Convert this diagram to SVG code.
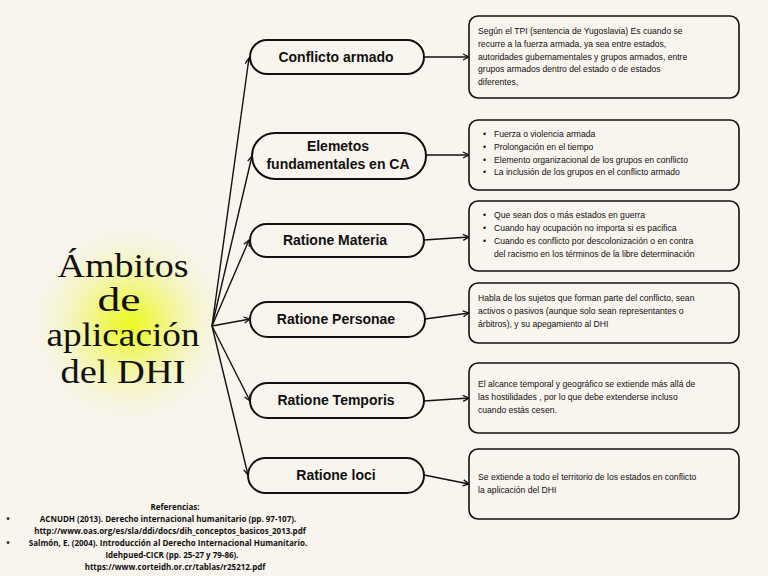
<svg xmlns="http://www.w3.org/2000/svg" width="768" height="576" viewBox="0 0 768 576">
<defs>
<radialGradient id="glow" cx="130" cy="324" r="108" gradientUnits="userSpaceOnUse">
<stop offset="0" stop-color="#ebf81f"/>
<stop offset="0.2" stop-color="#eef748" stop-opacity="0.9"/>
<stop offset="0.55" stop-color="#f2f69c" stop-opacity="0.6"/>
<stop offset="1" stop-color="#f8f4ee" stop-opacity="0"/>
</radialGradient>
<marker id="arr" markerWidth="8" markerHeight="8" refX="7" refY="4" orient="auto" markerUnits="userSpaceOnUse">
<path d="M1,1 L7,4 L1,7" fill="none" stroke="#111" stroke-width="1.3"/>
</marker>
<style>
.pill{fill:#f8f4ee;stroke:#111;stroke-width:2}
.box{fill:#f8f4ee;stroke:#111;stroke-width:1.6}
.lbl{font-family:"Liberation Sans",Arial,sans-serif;font-weight:bold;font-size:14px;fill:#111;text-anchor:middle}
.txt{font-family:"Liberation Sans",Arial,sans-serif;font-size:8.6px;fill:#111}
.ref{font-family:"Open Sans","Liberation Sans",sans-serif;font-weight:bold;font-size:8px;fill:#111;text-anchor:middle}
.con{fill:none;stroke:#111;stroke-width:1.4;marker-end:url(#arr)}
</style>
</defs>
<rect width="768" height="576" fill="#f8f4ee"/>
<circle cx="130" cy="324" r="108" fill="url(#glow)"/>
<g id="title" font-family="'Liberation Serif', 'DejaVu Serif', serif" font-size="33" fill="#111" text-anchor="middle">
<text x="123" y="277" textLength="131" lengthAdjust="spacingAndGlyphs">Ámbitos</text>
<text x="119" y="311" textLength="43" lengthAdjust="spacingAndGlyphs">de</text>
<text x="123" y="346" textLength="153" lengthAdjust="spacingAndGlyphs">aplicación</text>
<text x="123" y="383" textLength="125" lengthAdjust="spacingAndGlyphs">del DHI</text>
</g>
<g id="connectors">
<path class="con" d="M212,326 L249,58"/>
<path class="con" d="M212,326 L252,156"/>
<path class="con" d="M212,326 L249,240"/>
<path class="con" d="M212,326 L250,319"/>
<path class="con" d="M212,326 L250,401"/>
<path class="con" d="M212,326 L248,475"/>
<path class="con" d="M424,57 L469,57"/>
<path class="con" d="M426,155 L469,155"/>
<path class="con" d="M424,240 L469,237"/>
<path class="con" d="M425,319 L469,313"/>
<path class="con" d="M424,401 L469,398"/>
<path class="con" d="M424,475 L469,484"/>
</g>
<g id="n-conflicto">
<rect class="pill" x="250" y="40" width="174" height="34" rx="17"/>
<text class="lbl" x="336" y="62">Conflicto armado</text>
</g>
<g id="n-elementos">
<rect class="pill" x="252" y="133" width="174" height="46" rx="23"/>
<text class="lbl" x="338" y="151">Elemetos</text>
<text class="lbl" x="338" y="169">fundamentales en CA</text>
</g>
<g id="n-materia">
<rect class="pill" x="250" y="224" width="174" height="33" rx="16.5"/>
<text class="lbl" x="335" y="245">Ratione Materia</text>
</g>
<g id="n-personae">
<rect class="pill" x="250" y="302" width="175" height="35" rx="17.5"/>
<text class="lbl" x="336" y="324">Ratione Personae</text>
</g>
<g id="n-temporis">
<rect class="pill" x="250" y="383" width="174" height="35" rx="17.5"/>
<text class="lbl" x="336" y="405">Ratione Temporis</text>
</g>
<g id="n-loci">
<rect class="pill" x="248" y="458" width="176" height="35" rx="17.5"/>
<text class="lbl" x="336" y="480">Ratione loci</text>
</g>
<g id="b-conflicto">
<rect class="box" x="469" y="16" width="270" height="82" rx="9"/>
<text class="txt" x="478" y="34">Según el TPI (sentencia de Yugoslavia) Es cuando se</text>
<text class="txt" x="478" y="47">recurre a la fuerza armada, ya sea entre estados,</text>
<text class="txt" x="478" y="60">autoridades gubernamentales y grupos armados, entre</text>
<text class="txt" x="478" y="72">grupos armados dentro del estado o de estados</text>
<text class="txt" x="478" y="85">diferentes,</text>
</g>
<g id="b-elementos">
<rect class="box" x="469" y="120" width="270" height="70" rx="9"/>
<text class="txt" x="483" y="137">•</text><text class="txt" x="494" y="137">Fuerza o violencia armada</text>
<text class="txt" x="483" y="150">•</text><text class="txt" x="494" y="150">Prolongación en el tiempo</text>
<text class="txt" x="483" y="163">•</text><text class="txt" x="494" y="163">Elemento organizacional de los grupos en conflicto</text>
<text class="txt" x="483" y="175">•</text><text class="txt" x="494" y="175">La inclusión de los grupos en el conflicto armado</text>
</g>
<g id="b-materia">
<rect class="box" x="469" y="201" width="270" height="70" rx="9"/>
<text class="txt" x="483" y="218">•</text><text class="txt" x="494" y="218">Que sean dos o más estados en guerra</text>
<text class="txt" x="483" y="231">•</text><text class="txt" x="494" y="231">Cuando hay ocupación no importa si es pacifica</text>
<text class="txt" x="483" y="244">•</text><text class="txt" x="494" y="244">Cuando es conflicto por descolonización o en contra</text>
<text class="txt" x="494" y="257">del racismo en los términos de la libre determinación</text>
</g>
<g id="b-personae">
<rect class="box" x="469" y="283" width="270" height="60" rx="9"/>
<text class="txt" x="478" y="301">Habla de los sujetos que forman parte del conflicto, sean</text>
<text class="txt" x="478" y="314">activos o pasivos (aunque solo sean representantes o</text>
<text class="txt" x="478" y="327">árbitros), y su apegamiento al DHI</text>
</g>
<g id="b-temporis">
<rect class="box" x="469" y="363" width="270" height="70" rx="9"/>
<text class="txt" x="478" y="387">El alcance temporal y geográfico se extiende más allá de</text>
<text class="txt" x="478" y="400">las hostilidades , por lo que debe extenderse incluso</text>
<text class="txt" x="478" y="413">cuando estás cesen.</text>
</g>
<g id="b-loci">
<rect class="box" x="469" y="449" width="270" height="70" rx="9"/>
<text class="txt" x="478" y="480">Se extiende a todo el territorio de los estados en conflicto</text>
<text class="txt" x="478" y="493">la aplicación del DHI</text>
</g>
<g id="referencias">
<text class="ref" x="175" y="510">Referencias:</text>
<text class="ref" x="8" y="522">•</text>
<text class="ref" x="168" y="522">ACNUDH (2013). Derecho internacional humanitario (pp. 97-107).</text>
<text class="ref" x="170" y="534">http://www.oas.org/es/sla/ddi/docs/dih_conceptos_basicos_2013.pdf</text>
<text class="ref" x="8" y="546">•</text>
<text class="ref" x="168" y="546">Salmón, E. (2004). Introducción al Derecho Internacional Humanitario.</text>
<text class="ref" x="172" y="558">Idehpued-CICR (pp. 25-27 y 79-86).</text>
<text class="ref" x="175" y="570">https://www.corteidh.or.cr/tablas/r25212.pdf</text>
</g>
</svg>
